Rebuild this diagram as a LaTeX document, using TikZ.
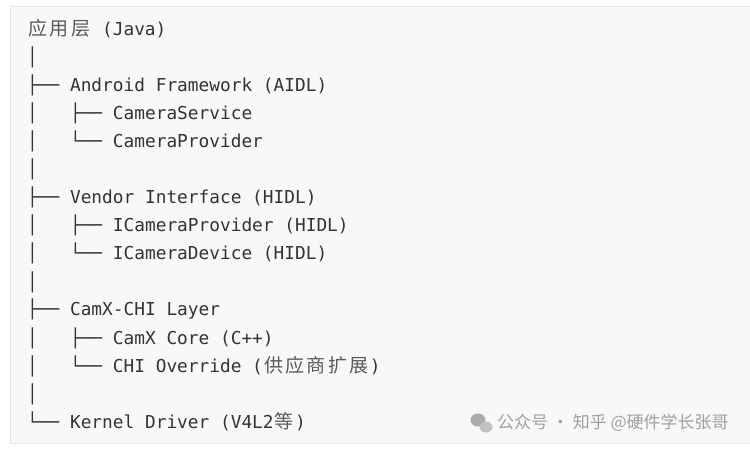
\documentclass[tikz,border=0pt]{standalone}
\usepackage{fontspec}
\setmonofont{DejaVu Sans Mono}
\newfontfamily\cjk{Noto Sans CJK SC}

\definecolor{codebg}{HTML}{F8F8F8}
\definecolor{codeedge}{HTML}{E6E6E6}
\definecolor{codefg}{HTML}{333333}
\definecolor{zhgray}{HTML}{5A5A5A}
\definecolor{wmgray}{HTML}{A0A0A0}

% one column of the monospaced text
\newlength\colw
\setlength\colw{10.7pt}
\newcommand\zh[1]{\makebox[2\colw][c]{\cjk\fontsize{19}{20}\selectfont\color{zhgray}#1}}

\tikzset{
  codeline/.style={anchor=base west, inner sep=0pt, text=codefg,
    font=\ttfamily\fontsize{17.8}{20}\selectfont},
  watermark/.style={anchor=base west, inner sep=0pt, text=wmgray,
    font=\cjk\fontsize{17}{20}\selectfont}
}

\begin{document}
\begin{tikzpicture}[x=1pt,y=-1pt]
    \useasboundingbox (0,0) rectangle (750,457);
    % code block
    \draw[codeedge, fill=codebg] (10.5,6.5) rectangle (770,443.5);
    % tree lines
    \foreach \txt [count=\i from 0] in {
        {\zh{应}\zh{用}\zh{层} (Java)},
        {│},
        {├── Android Framework (AIDL)},
        {│~~~├── CameraService},
        {│~~~└── CameraProvider},
        {│},
        {├── Vendor Interface (HIDL)},
        {│~~~├── ICameraProvider (HIDL)},
        {│~~~└── ICameraDevice (HIDL)},
        {│},
        {├── CamX-CHI Layer},
        {│~~~├── CamX Core (C++)},
        {│~~~└── CHI Override (\zh{供}\zh{应}\zh{商}\zh{扩}\zh{展})},
        {│},
        {└── Kernel Driver (V4L2\zh{等})}}
        \node[codeline] (line\i) at (27,36+28*\i) {\txt};
    % watermark
    \fill[wmgray!90] (478,420) ellipse (7.5pt and 6.5pt);
    \fill[wmgray!65] (486,427) ellipse (6.5pt and 5.5pt);
    \node[watermark] (wm) at (497,428) {公众号 · 知乎 @硬件学长张哥};
\end{tikzpicture}
\end{document}
